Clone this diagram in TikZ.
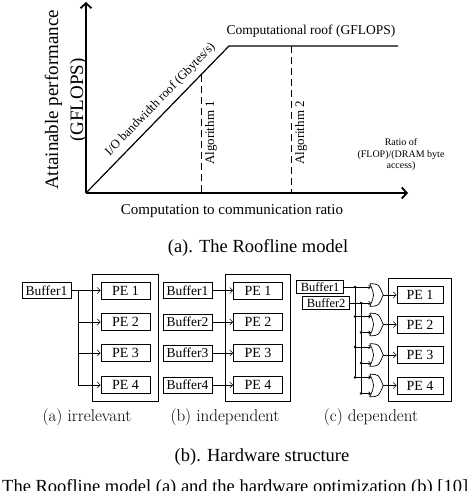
\documentclass[tikz,border=0pt]{standalone}
\usepackage{fontspec}
\newfontfamily\timesfont{Liberation Serif}
\usetikzlibrary{arrows.meta,positioning,fit,calc}
\newcommand{\fs}[1]{\fontsize{#1}{#1}\selectfont}
\tikzset{
  axis/.style={line width=1.8pt,-{Straight Barb[length=5pt,width=11pt]}},
  roof/.style={line width=1.2pt},
  algline/.style={line width=1pt,dash pattern=on 7pt off 4pt},
  lbl/.style={font=\timesfont\fs{13}},
  caption/.style={font=\timesfont\fs{18.5}},
  subcap/.style={font=\fs{17}},
  buf/.style={draw,line width=0.7pt,inner sep=1pt,minimum width=49pt,
    minimum height=16pt,font=\timesfont\fs{13.5}},
  cbuf/.style={draw,line width=0.7pt,inner sep=1pt,minimum width=47pt,
    minimum height=13pt,font=\timesfont\fs{12.5}},
  pe/.style={draw,line width=0.7pt,inner sep=1pt,minimum width=49pt,
    minimum height=17pt,font=\timesfont\fs{14}},
  frame/.style={draw,line width=0.8pt,inner xsep=8pt,inner ysep=7.5pt},
  wire/.style={line width=0.6pt,-{Straight Barb[length=3pt,width=6pt]}},
  gin/.style={line width=0.6pt,-{Straight Barb[length=2pt,width=3.5pt]}},
  gatebox/.style={minimum width=13pt,minimum height=22pt,inner sep=0pt},
  gateline/.style={line width=0.7pt},
  dot/.style={circle,fill,inner sep=0pt,minimum size=2.6pt}
}

\begin{document}
\begin{tikzpicture}[x=1pt,y=-1pt]
  \useasboundingbox (0,0) rectangle (474,491);
  \clip (0,0) rectangle (474,491);

  % roofline model
  \coordinate (O) at (86,193);
  \coordinate (ytip) at (86,2);
  \coordinate (xtip) at (408,193);
  \coordinate (knee) at (229,46);
  \coordinate (roofend) at (398,46);
  \draw[axis] (O) -- (ytip);
  \draw[axis] (O) -- (xtip);
  \draw[roof] (O) -- node[sloped,above=2pt,pos=0.58,font=\timesfont\fs{12.5}]
    {I/O bandwidth roof (Gbytes/s)} (knee) -- (roofend);
  \coordinate (a1b) at (201,193);
  \coordinate (a1t) at (201,75);
  \coordinate (a2b) at (291,193);
  \coordinate (a2t) at (291,46);
  \draw[algline] (a1t) -- (a1b);
  \draw[algline] (a2t) -- (a2b);
  \node[lbl,rotate=90] (alg1) at (211,133) {Algorithm 1};
  \node[lbl,rotate=90] (alg2) at (301,133) {Algorithm 2};
  \node[lbl,anchor=west,font=\timesfont\fs{13.5}] (croof) at (223,31)
    {Computational roof (GFLOPS)};
  \node[font=\timesfont\fs{15}] (xlab) at (232,211)
    {Computation to communication ratio};
  \node[font=\timesfont\fontsize{10}{11.5}\selectfont,align=center] (ratio)
    at (401,155) {Ratio of\\(FLOP)/(DRAM byte\\access)};
  \node[font=\timesfont\fontsize{19}{25}\selectfont,align=center,rotate=90]
    (ylab) at (66,100) {Attainable performance\\(GFLOPS)};
  \node[caption] (capa) at (258,248) {(a). The Roofline model};

  % (a) irrelevant
  \node[buf] (ba) at (46.5,290.5) {Buffer1};
  \foreach \i/\y in {1/290.5,2/322,3/353,4/385}
    \node[pe] (pa\i) at (125.5,\y) {PE \i};
  \node[frame,fit=(pa1)(pa4)] (fa) {};
  \coordinate (sa) at (78,290.5);
  \draw[line width=0.6pt] (ba.east) -- (sa) -- (sa |- pa4.west);
  \foreach \i in {1,...,4}
    \draw[wire] (sa |- pa\i.west) -- (pa\i.west);
  \node[subcap] (suba) at (87,417) {(a) irrelevant};

  % (b) independent
  \foreach \i/\y in {1/290.5,2/322,3/353,4/385}{
    \node[buf] (bb\i) at (187.5,\y) {Buffer\i};
    \node[pe] (pb\i) at (258,\y) {PE \i};
    \draw[wire] (bb\i) -- (pb\i);
  }
  \node[frame,fit=(pb1)(pb4)] (fb) {};
  \node[subcap] (subb) at (225,417) {(b) independent};

  % (c) dependent
  \foreach \i/\y in {1/295,2/324.5,3/355,4/385.5}{
    \node[pe,minimum width=46pt] (pc\i) at (420,\y) {PE \i};
    \node[gatebox] (g\i) at (376.5,\y) {};
    \draw[gateline] (g\i.north west) .. controls ($(g\i.west)+(5,0)$) ..
      (g\i.south west) .. controls ($(g\i.south)+(2,0)$) .. (g\i.east)
      .. controls ($(g\i.north)+(2,0)$) .. (g\i.north west);
    \coordinate (g\i-in1) at ($(g\i.west)+(1.2,-8)$);
    \coordinate (g\i-in2) at ($(g\i.west)+(1.2,8)$);
    \draw[wire] (g\i.east) -- (pc\i.west);
  }
  \node[frame,fit=(pc1)(pc4)] (fc) {};
  \node[cbuf,anchor=east] (cb1) at ([xshift=-27pt]g1-in1) {Buffer1};
  \node[cbuf,anchor=east] (cb2) at ([xshift=-21pt]g1-in2) {Buffer2};
  \coordinate (bus1) at (355,0);
  \coordinate (bus2) at (361,0);
  \draw[line width=0.6pt] (cb1.east) -- (bus1 |- cb1.east);
  \draw[line width=0.6pt] (cb2.east) -- (bus2 |- cb2.east);
  \draw[line width=0.6pt] (bus1 |- g1-in1) -- (bus1 |- g4-in1);
  \draw[line width=0.6pt] (bus2 |- g1-in2) -- (bus2 |- g4-in2);
  \foreach \i in {1,...,4}{
    \node[dot] at (bus1 |- g\i-in1) {};
    \node[dot] at (bus2 |- g\i-in2) {};
    \draw[gin] (bus1 |- g\i-in1) -- (g\i-in1);
    \draw[gin] (bus2 |- g\i-in2) -- (g\i-in2);
  }
  \node[subcap] (subc) at (371,417) {(c) dependent};

  \node[caption] (capb) at (262,457) {(b). Hardware structure};
  \node[caption,anchor=base west,inner sep=0pt] (capfig) at (2,492.5)
    {The Roofline model (a) and the hardware optimization (b) [10]};
\end{tikzpicture}
\end{document}
